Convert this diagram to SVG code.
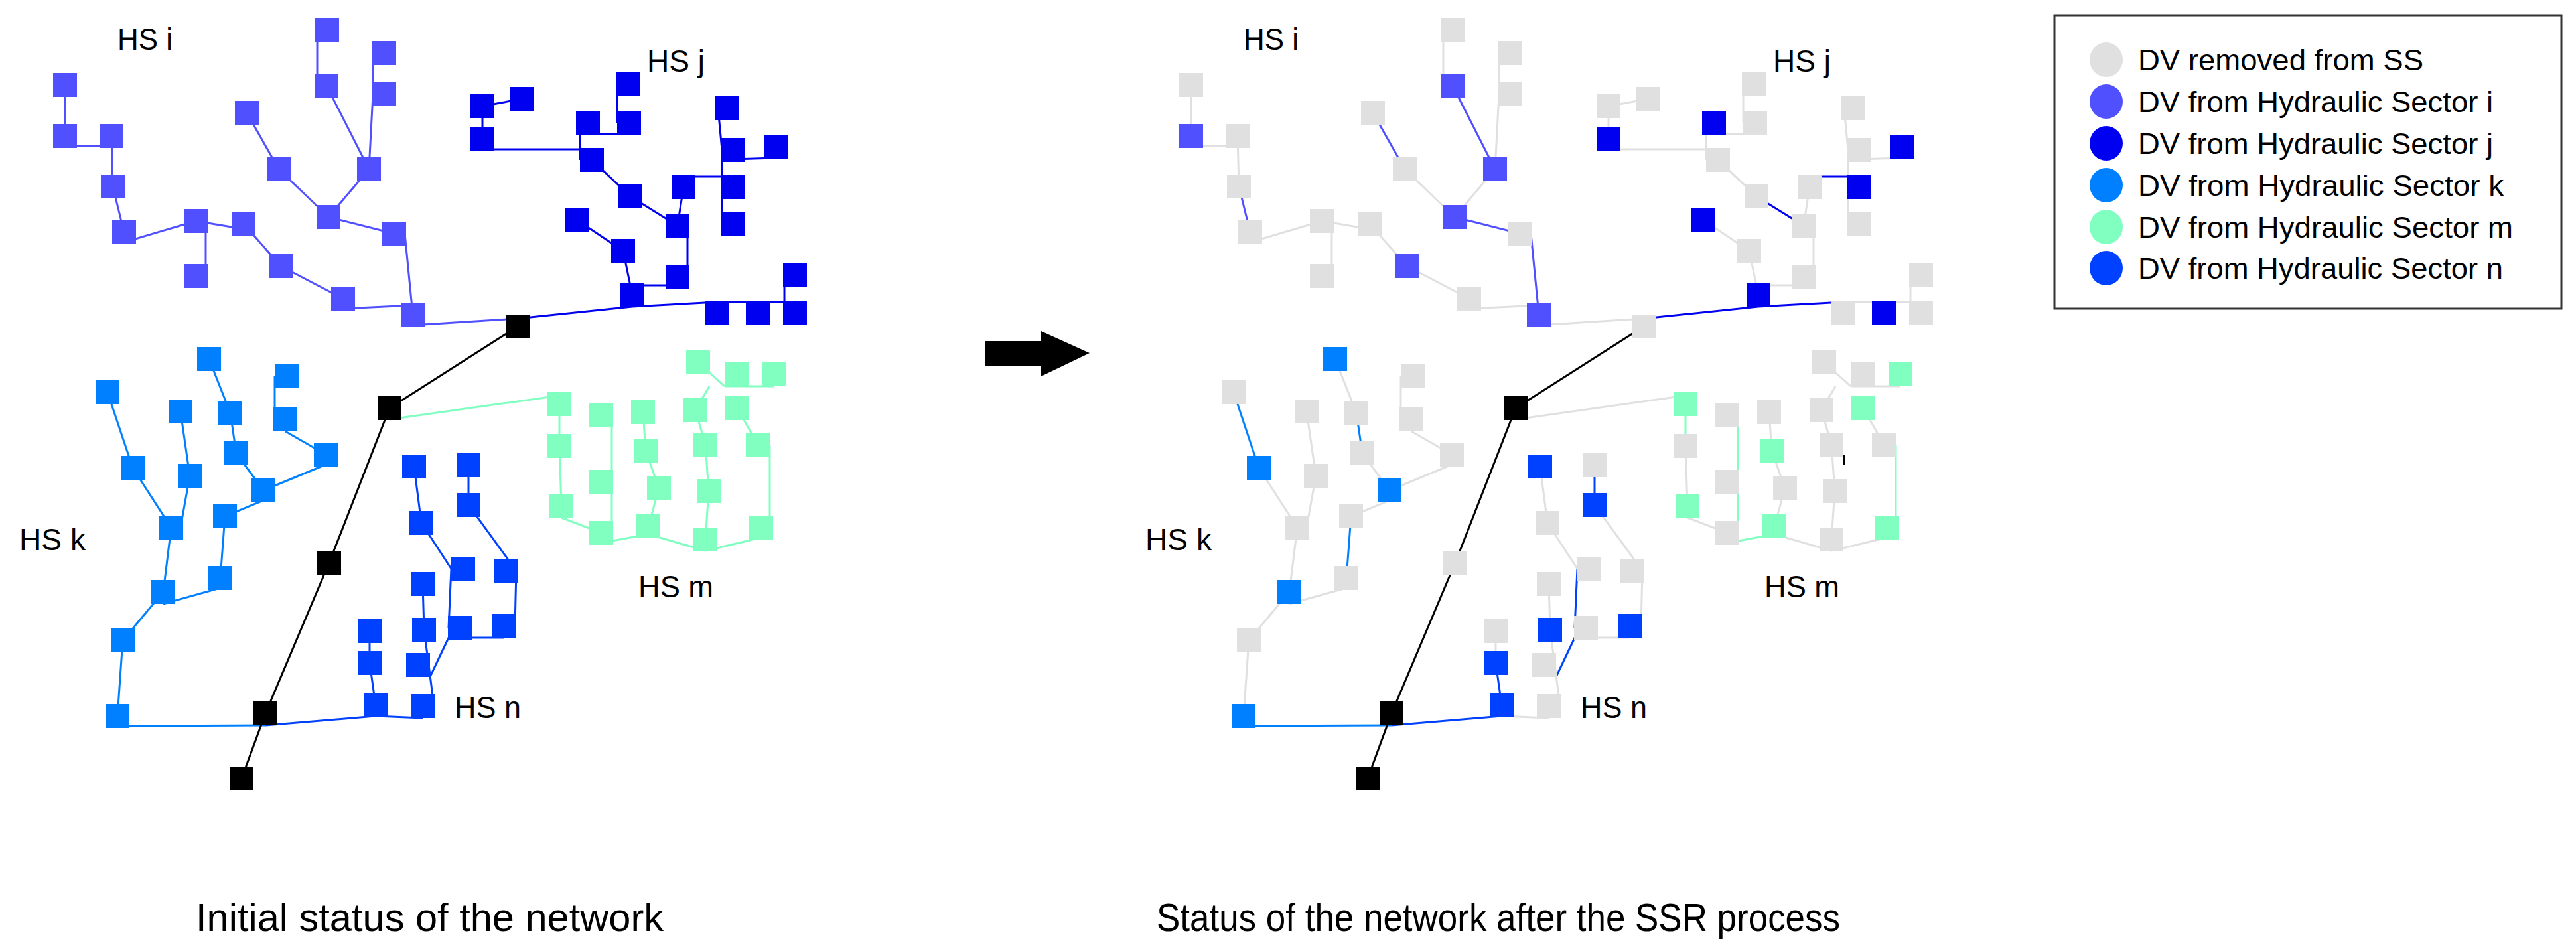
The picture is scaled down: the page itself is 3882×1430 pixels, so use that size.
<svg xmlns="http://www.w3.org/2000/svg" xmlns:xlink="http://www.w3.org/1999/xlink" width="3882" height="1430" viewBox="0 0 3882 1430">
<style>
line{stroke-width:3;fill:none}
.ei{stroke:#5050FF}.ej{stroke:#0000F0}.ek{stroke:#0080FF}.em{stroke:#80FFC0}.en{stroke:#0040FF}.eb{stroke:#000}.eg{stroke:#E0E0E0}
rect{width:36px;height:36px}
.ni{fill:#5050FF}.nj{fill:#0000F0}.nk{fill:#0080FF}.nm{fill:#80FFC0}.nn{fill:#0040FF}.nb{fill:#000}.ng{fill:#E0E0E0}
text{font-family:"Liberation Sans",Arial,sans-serif;fill:#000}
.hs{font-size:46px}
.lg{font-size:45px}
.cap{font-size:60px}
</style>
<rect x="0" y="0" width="3882" height="1430" style="width:3882px;height:1430px" fill="#fff"/>

<!-- LEFT NETWORK -->
<g id="left">
<g id="left-connectors">
<line class="ei" x1="98" y1="128" x2="98" y2="205"/><line class="ei" x1="98" y1="220" x2="168" y2="220"/><line class="ei" x1="168" y1="205" x2="170" y2="281"/><line class="ei" x1="170" y1="281" x2="187" y2="350"/><line class="ei" x1="187" y1="365" x2="295" y2="333"/><line class="ei" x1="295" y1="333" x2="367" y2="345"/><line class="ei" x1="310" y1="333" x2="310" y2="416"/><line class="ei" x1="367" y1="337" x2="423" y2="401"/><line class="ei" x1="423" y1="401" x2="517" y2="450"/><line class="ei" x1="517" y1="465" x2="622" y2="460"/><line class="ei" x1="622" y1="474" x2="610" y2="352"/><line class="ei" x1="594" y1="352" x2="495" y2="327"/><line class="ei" x1="495" y1="327" x2="420" y2="255"/><line class="ei" x1="495" y1="327" x2="556" y2="255"/><line class="ei" x1="420" y1="255" x2="372" y2="170"/><line class="ei" x1="556" y1="255" x2="492" y2="129"/><line class="ei" x1="556" y1="255" x2="562" y2="142"/><line class="ei" x1="478" y1="129" x2="478" y2="45"/><line class="ei" x1="562" y1="142" x2="562" y2="80"/><line class="ei" x1="622" y1="490" x2="780" y2="480"/>
<line class="ej" x1="727" y1="160" x2="787" y2="149"/><line class="ej" x1="727" y1="160" x2="727" y2="210"/><line class="ej" x1="727" y1="225" x2="892" y2="225"/><line class="ej" x1="874" y1="241" x2="874" y2="186"/><line class="ej" x1="886" y1="202" x2="948" y2="202"/><line class="ej" x1="930" y1="186" x2="930" y2="126"/><line class="ej" x1="892" y1="241" x2="950" y2="296"/><line class="ej" x1="950" y1="296" x2="1021" y2="340"/><line class="ej" x1="1021" y1="340" x2="1030" y2="282"/><line class="ej" x1="1030" y1="266" x2="1104" y2="266"/><line class="ej" x1="1088" y1="282" x2="1088" y2="226"/><line class="ej" x1="1104" y1="240" x2="1169" y2="238"/><line class="ej" x1="1088" y1="226" x2="1082" y2="163"/><line class="ej" x1="1088" y1="282" x2="1088" y2="337"/><line class="ej" x1="1036" y1="340" x2="1036" y2="418"/><line class="ej" x1="869" y1="331" x2="939" y2="378"/><line class="ej" x1="939" y1="378" x2="953" y2="445"/><line class="ej" x1="953" y1="430" x2="1021" y2="430"/><line class="ej" x1="953" y1="462" x2="780" y2="480"/><line class="ej" x1="953" y1="462" x2="1081" y2="455"/><line class="ej" x1="1081" y1="455" x2="1198" y2="455"/><line class="ej" x1="1182" y1="472" x2="1182" y2="415"/>
<line class="ek" x1="315" y1="541" x2="347" y2="622"/><line class="ek" x1="347" y1="622" x2="356" y2="683"/><line class="ek" x1="356" y1="683" x2="397" y2="739"/><line class="ek" x1="397" y1="739" x2="491" y2="700"/><line class="ek" x1="491" y1="685" x2="430" y2="650"/><line class="ek" x1="414" y1="632" x2="414" y2="567"/><line class="ek" x1="397" y1="754" x2="339" y2="778"/><line class="ek" x1="339" y1="778" x2="332" y2="871"/><line class="ek" x1="332" y1="886" x2="246" y2="910"/><line class="ek" x1="272" y1="620" x2="286" y2="717"/><line class="ek" x1="286" y1="717" x2="272" y2="795"/><line class="ek" x1="162" y1="591" x2="200" y2="705"/><line class="ek" x1="200" y1="705" x2="258" y2="795"/><line class="ek" x1="258" y1="795" x2="246" y2="892"/><line class="ek" x1="246" y1="892" x2="185" y2="965"/><line class="ek" x1="185" y1="965" x2="177" y2="1079"/><line class="ek" x1="177" y1="1094" x2="400" y2="1093"/>
<line class="em" x1="587" y1="632" x2="843" y2="596"/><line class="em" x1="843" y1="609" x2="843" y2="672"/><line class="em" x1="843" y1="672" x2="846" y2="762"/><line class="em" x1="846" y1="780" x2="906" y2="803"/><line class="em" x1="922" y1="625" x2="922" y2="803"/><line class="em" x1="906" y1="818" x2="977" y2="805"/><line class="em" x1="977" y1="793" x2="993" y2="736"/><line class="em" x1="993" y1="736" x2="973" y2="679"/><line class="em" x1="973" y1="679" x2="969" y2="621"/><line class="em" x1="977" y1="805" x2="1063" y2="830"/><line class="em" x1="1063" y1="813" x2="1068" y2="740"/><line class="em" x1="1068" y1="740" x2="1063" y2="670"/><line class="em" x1="1063" y1="670" x2="1048" y2="618"/><line class="em" x1="1048" y1="618" x2="1069" y2="582"/><line class="em" x1="1052" y1="546" x2="1092" y2="582"/><line class="em" x1="1092" y1="582" x2="1167" y2="582"/><line class="em" x1="1063" y1="830" x2="1147" y2="810"/><line class="em" x1="1160" y1="795" x2="1160" y2="670"/><line class="em" x1="1142" y1="670" x2="1111" y2="615"/>
<line class="en" x1="624" y1="703" x2="635" y2="788"/><line class="en" x1="635" y1="788" x2="680" y2="857"/><line class="en" x1="680" y1="857" x2="676" y2="946"/><line class="en" x1="693" y1="961" x2="760" y2="961"/><line class="en" x1="776" y1="943" x2="778" y2="860"/><line class="en" x1="778" y1="860" x2="706" y2="761"/><line class="en" x1="706" y1="761" x2="706" y2="701"/><line class="en" x1="637" y1="880" x2="639" y2="949"/><line class="en" x1="639" y1="949" x2="646" y2="1002"/><line class="en" x1="676" y1="961" x2="648" y2="1020"/><line class="en" x1="646" y1="1002" x2="654" y2="1064"/><line class="en" x1="557" y1="951" x2="557" y2="999"/><line class="en" x1="557" y1="999" x2="566" y2="1062"/><line class="en" x1="566" y1="1079" x2="637" y2="1082"/><line class="en" x1="566" y1="1079" x2="400" y2="1093"/>
<line class="eb" x1="780" y1="492" x2="587" y2="615"/><line class="eb" x1="587" y1="615" x2="496" y2="848"/><line class="eb" x1="496" y1="848" x2="400" y2="1075"/><line class="eb" x1="400" y1="1075" x2="364" y2="1173"/>
</g>
<g id="left-nodes">
<g id="L-i"><rect class="ni" x="475" y="27"/><rect class="ni" x="561" y="62"/><rect class="ni" x="474" y="111"/><rect class="ni" x="561" y="124"/><rect class="ni" x="80" y="110"/><rect class="ni" x="80" y="187"/><rect class="ni" x="150" y="187"/><rect class="ni" x="152" y="263"/><rect class="ni" x="169" y="332"/><rect class="ni" x="277" y="315"/><rect class="ni" x="349" y="319"/><rect class="ni" x="354" y="152"/><rect class="ni" x="402" y="237"/><rect class="ni" x="538" y="237"/><rect class="ni" x="477" y="309"/><rect class="ni" x="576" y="334"/><rect class="ni" x="277" y="398"/><rect class="ni" x="405" y="383"/><rect class="ni" x="499" y="432"/><rect class="ni" x="604" y="456"/></g>
<g id="L-j"><rect class="nj" x="709" y="142"/><rect class="nj" x="769" y="131"/><rect class="nj" x="709" y="192"/><rect class="nj" x="928" y="108"/><rect class="nj" x="868" y="168"/><rect class="nj" x="930" y="168"/><rect class="nj" x="874" y="223"/><rect class="nj" x="1078" y="145"/><rect class="nj" x="1086" y="208"/><rect class="nj" x="1151" y="204"/><rect class="nj" x="1012" y="264"/><rect class="nj" x="1086" y="264"/><rect class="nj" x="932" y="278"/><rect class="nj" x="851" y="313"/><rect class="nj" x="1003" y="322"/><rect class="nj" x="1086" y="319"/><rect class="nj" x="921" y="360"/><rect class="nj" x="1003" y="400"/><rect class="nj" x="935" y="427"/><rect class="nj" x="1063" y="454"/><rect class="nj" x="1124" y="454"/><rect class="nj" x="1180" y="454"/><rect class="nj" x="1180" y="397"/></g>
<g id="L-k"><rect class="nk" x="297" y="523"/><rect class="nk" x="414" y="549"/><rect class="nk" x="144" y="573"/><rect class="nk" x="254" y="602"/><rect class="nk" x="329" y="604"/><rect class="nk" x="412" y="614"/><rect class="nk" x="338" y="665"/><rect class="nk" x="473" y="667"/><rect class="nk" x="182" y="687"/><rect class="nk" x="268" y="699"/><rect class="nk" x="379" y="721"/><rect class="nk" x="321" y="760"/><rect class="nk" x="240" y="777"/><rect class="nk" x="314" y="853"/><rect class="nk" x="228" y="874"/><rect class="nk" x="167" y="947"/><rect class="nk" x="159" y="1061"/></g>
<g id="L-m"><rect class="nm" x="1034" y="528"/><rect class="nm" x="1092" y="546"/><rect class="nm" x="1149" y="546"/><rect class="nm" x="825" y="591"/><rect class="nm" x="888" y="607"/><rect class="nm" x="951" y="603"/><rect class="nm" x="1030" y="600"/><rect class="nm" x="1093" y="597"/><rect class="nm" x="825" y="654"/><rect class="nm" x="955" y="661"/><rect class="nm" x="1045" y="652"/><rect class="nm" x="1124" y="652"/><rect class="nm" x="888" y="708"/><rect class="nm" x="975" y="718"/><rect class="nm" x="1050" y="722"/><rect class="nm" x="828" y="744"/><rect class="nm" x="888" y="785"/><rect class="nm" x="959" y="775"/><rect class="nm" x="1045" y="795"/><rect class="nm" x="1129" y="777"/></g>
<g id="L-n"><rect class="nn" x="606" y="685"/><rect class="nn" x="688" y="683"/><rect class="nn" x="688" y="743"/><rect class="nn" x="617" y="770"/><rect class="nn" x="680" y="839"/><rect class="nn" x="744" y="842"/><rect class="nn" x="619" y="862"/><rect class="nn" x="539" y="933"/><rect class="nn" x="621" y="931"/><rect class="nn" x="675" y="928"/><rect class="nn" x="742" y="925"/><rect class="nn" x="539" y="981"/><rect class="nn" x="612" y="984"/><rect class="nn" x="548" y="1044"/><rect class="nn" x="619" y="1046"/></g>
<g id="L-b"><rect class="nb" x="762" y="474"/><rect class="nb" x="569" y="597"/><rect class="nb" x="478" y="830"/><rect class="nb" x="382" y="1057"/><rect class="nb" x="346" y="1155"/></g>
</g>
<g id="left-labels">
<text class="hs" x="177" y="75" textLength="83" lengthAdjust="spacingAndGlyphs">HS i</text>
<text class="hs" x="975" y="108" textLength="87" lengthAdjust="spacingAndGlyphs">HS j</text>
<text class="hs" x="29" y="829" textLength="100" lengthAdjust="spacingAndGlyphs">HS k</text>
<text class="hs" x="962" y="900" textLength="113" lengthAdjust="spacingAndGlyphs">HS m</text>
<text class="hs" x="685" y="1082" textLength="100" lengthAdjust="spacingAndGlyphs">HS n</text>
</g>
</g>

<!-- ARROW -->
<polygon id="arrow" points="1484,514 1569,514 1569,499 1642,532 1569,567 1569,551 1484,551" fill="#000"/>

<!-- RIGHT NETWORK -->
<g id="right" transform="translate(1697,0)">
<g id="right-connectors">
<line class="eg" x1="98" y1="128" x2="98" y2="205"/><line class="eg" x1="98" y1="220" x2="168" y2="220"/><line class="eg" x1="168" y1="205" x2="170" y2="281"/><line class="ei" x1="170" y1="281" x2="187" y2="350"/><line class="eg" x1="187" y1="365" x2="295" y2="333"/><line class="eg" x1="295" y1="333" x2="367" y2="345"/><line class="eg" x1="310" y1="333" x2="310" y2="416"/><line class="eg" x1="367" y1="337" x2="423" y2="401"/><line class="eg" x1="423" y1="401" x2="517" y2="450"/><line class="eg" x1="517" y1="465" x2="622" y2="460"/><line class="ei" x1="622" y1="474" x2="610" y2="352"/><line class="ei" x1="594" y1="352" x2="495" y2="327"/><line class="eg" x1="495" y1="327" x2="420" y2="255"/><line class="eg" x1="495" y1="327" x2="556" y2="255"/><line class="ei" x1="420" y1="255" x2="372" y2="170"/><line class="ei" x1="556" y1="255" x2="492" y2="129"/><line class="eg" x1="556" y1="255" x2="562" y2="142"/><line class="eg" x1="478" y1="129" x2="478" y2="45"/><line class="eg" x1="562" y1="142" x2="562" y2="80"/><line class="eg" x1="622" y1="490" x2="780" y2="480"/>
<line class="eg" x1="727" y1="160" x2="787" y2="149"/><line class="eg" x1="727" y1="160" x2="727" y2="210"/><line class="eg" x1="727" y1="225" x2="892" y2="225"/><line class="eg" x1="874" y1="241" x2="874" y2="186"/><line class="eg" x1="886" y1="202" x2="948" y2="202"/><line class="eg" x1="930" y1="186" x2="930" y2="126"/><line class="eg" x1="892" y1="241" x2="950" y2="296"/><line class="ej" x1="950" y1="296" x2="1021" y2="340"/><line class="eg" x1="1021" y1="340" x2="1030" y2="282"/><line class="ej" x1="1030" y1="266" x2="1104" y2="266"/><line class="eg" x1="1088" y1="282" x2="1088" y2="226"/><line class="eg" x1="1104" y1="240" x2="1169" y2="238"/><line class="eg" x1="1088" y1="226" x2="1082" y2="163"/><line class="eg" x1="1088" y1="282" x2="1088" y2="337"/><line class="eg" x1="1036" y1="340" x2="1036" y2="418"/><line class="eg" x1="869" y1="331" x2="939" y2="378"/><line class="eg" x1="939" y1="378" x2="953" y2="445"/><line class="eg" x1="953" y1="430" x2="1021" y2="430"/><line class="ej" x1="953" y1="462" x2="780" y2="480"/><line class="ej" x1="953" y1="462" x2="1081" y2="455"/><line class="eg" x1="1081" y1="455" x2="1198" y2="455"/><line class="eg" x1="1182" y1="472" x2="1182" y2="415"/>
<line class="eg" x1="315" y1="541" x2="347" y2="622"/><line class="ek" x1="347" y1="622" x2="356" y2="683"/><line class="eg" x1="356" y1="683" x2="397" y2="739"/><line class="eg" x1="397" y1="739" x2="491" y2="700"/><line class="eg" x1="491" y1="685" x2="430" y2="650"/><line class="eg" x1="414" y1="632" x2="414" y2="567"/><line class="eg" x1="397" y1="754" x2="339" y2="778"/><line class="ek" x1="339" y1="778" x2="332" y2="871"/><line class="eg" x1="332" y1="886" x2="246" y2="910"/><line class="eg" x1="272" y1="620" x2="286" y2="717"/><line class="eg" x1="286" y1="717" x2="272" y2="795"/><line class="ek" x1="162" y1="591" x2="200" y2="705"/><line class="eg" x1="200" y1="705" x2="258" y2="795"/><line class="eg" x1="258" y1="795" x2="246" y2="892"/><line class="eg" x1="246" y1="892" x2="185" y2="965"/><line class="eg" x1="185" y1="965" x2="177" y2="1079"/><line class="ek" x1="177" y1="1094" x2="400" y2="1093"/>
<line class="eg" x1="587" y1="632" x2="843" y2="596"/><line class="em" x1="843" y1="609" x2="843" y2="672"/><line class="eg" x1="843" y1="672" x2="846" y2="762"/><line class="eg" x1="846" y1="780" x2="906" y2="803"/><line class="em" x1="922" y1="625" x2="922" y2="803"/><line class="em" x1="906" y1="818" x2="977" y2="805"/><line class="eg" x1="977" y1="793" x2="993" y2="736"/><line class="eg" x1="993" y1="736" x2="973" y2="679"/><line class="eg" x1="973" y1="679" x2="969" y2="621"/><line class="eg" x1="977" y1="805" x2="1063" y2="830"/><line class="eg" x1="1063" y1="813" x2="1068" y2="740"/><line class="eg" x1="1068" y1="740" x2="1063" y2="670"/><line class="eg" x1="1063" y1="670" x2="1048" y2="618"/><line class="eg" x1="1048" y1="618" x2="1069" y2="582"/><line class="eg" x1="1052" y1="546" x2="1092" y2="582"/><line class="eg" x1="1092" y1="582" x2="1167" y2="582"/><line class="eg" x1="1063" y1="830" x2="1147" y2="810"/><line class="em" x1="1160" y1="795" x2="1160" y2="670"/><line class="eg" x1="1142" y1="670" x2="1111" y2="615"/><line class="eb" x1="1082" y1="686" x2="1082" y2="700"/>
<line class="eg" x1="624" y1="703" x2="635" y2="788"/><line class="eg" x1="635" y1="788" x2="680" y2="857"/><line class="en" x1="680" y1="857" x2="676" y2="946"/><line class="eg" x1="693" y1="961" x2="760" y2="961"/><line class="eg" x1="776" y1="943" x2="778" y2="860"/><line class="eg" x1="778" y1="860" x2="706" y2="761"/><line class="en" x1="706" y1="761" x2="706" y2="701"/><line class="eg" x1="637" y1="880" x2="639" y2="949"/><line class="eg" x1="639" y1="949" x2="646" y2="1002"/><line class="en" x1="676" y1="961" x2="648" y2="1020"/><line class="eg" x1="646" y1="1002" x2="654" y2="1064"/><line class="eg" x1="557" y1="951" x2="557" y2="999"/><line class="en" x1="557" y1="999" x2="566" y2="1062"/><line class="eg" x1="566" y1="1079" x2="637" y2="1082"/><line class="en" x1="566" y1="1079" x2="400" y2="1093"/>
<line class="eb" x1="780" y1="492" x2="587" y2="615"/><line class="eb" x1="587" y1="615" x2="496" y2="848"/><line class="eb" x1="496" y1="848" x2="400" y2="1075"/><line class="eb" x1="400" y1="1075" x2="364" y2="1173"/>
</g>
<g id="right-nodes">
<g id="R-i"><rect class="ng" x="475" y="27"/><rect class="ng" x="561" y="62"/><rect class="ni" x="474" y="111"/><rect class="ng" x="561" y="124"/><rect class="ng" x="80" y="110"/><rect class="ni" x="80" y="187"/><rect class="ng" x="150" y="187"/><rect class="ng" x="152" y="263"/><rect class="ng" x="169" y="332"/><rect class="ng" x="277" y="315"/><rect class="ng" x="349" y="319"/><rect class="ng" x="354" y="152"/><rect class="ng" x="402" y="237"/><rect class="ni" x="538" y="237"/><rect class="ni" x="477" y="309"/><rect class="ng" x="576" y="334"/><rect class="ng" x="277" y="398"/><rect class="ni" x="405" y="383"/><rect class="ng" x="499" y="432"/><rect class="ni" x="604" y="456"/></g>
<g id="R-j"><rect class="ng" x="709" y="142"/><rect class="ng" x="769" y="131"/><rect class="nj" x="709" y="192"/><rect class="ng" x="928" y="108"/><rect class="nj" x="868" y="168"/><rect class="ng" x="930" y="168"/><rect class="ng" x="874" y="223"/><rect class="ng" x="1078" y="145"/><rect class="ng" x="1086" y="208"/><rect class="nj" x="1151" y="204"/><rect class="ng" x="1012" y="264"/><rect class="nj" x="1086" y="264"/><rect class="ng" x="932" y="278"/><rect class="nj" x="851" y="313"/><rect class="ng" x="1003" y="322"/><rect class="ng" x="1086" y="319"/><rect class="ng" x="921" y="360"/><rect class="ng" x="1003" y="400"/><rect class="nj" x="935" y="427"/><rect class="ng" x="1063" y="454"/><rect class="nj" x="1124" y="454"/><rect class="ng" x="1180" y="454"/><rect class="ng" x="1180" y="397"/></g>
<g id="R-k"><rect class="nk" x="297" y="523"/><rect class="ng" x="414" y="549"/><rect class="ng" x="144" y="573"/><rect class="ng" x="254" y="602"/><rect class="ng" x="329" y="604"/><rect class="ng" x="412" y="614"/><rect class="ng" x="338" y="665"/><rect class="ng" x="473" y="667"/><rect class="nk" x="182" y="687"/><rect class="ng" x="268" y="699"/><rect class="nk" x="379" y="721"/><rect class="ng" x="321" y="760"/><rect class="ng" x="240" y="777"/><rect class="ng" x="314" y="853"/><rect class="nk" x="228" y="874"/><rect class="ng" x="167" y="947"/><rect class="nk" x="159" y="1061"/></g>
<g id="R-m"><rect class="ng" x="1034" y="528"/><rect class="ng" x="1092" y="546"/><rect class="nm" x="1149" y="546"/><rect class="nm" x="825" y="591"/><rect class="ng" x="888" y="607"/><rect class="ng" x="951" y="603"/><rect class="ng" x="1030" y="600"/><rect class="nm" x="1093" y="597"/><rect class="ng" x="825" y="654"/><rect class="nm" x="955" y="661"/><rect class="ng" x="1045" y="652"/><rect class="ng" x="1124" y="652"/><rect class="ng" x="888" y="708"/><rect class="ng" x="975" y="718"/><rect class="ng" x="1050" y="722"/><rect class="nm" x="828" y="744"/><rect class="ng" x="888" y="785"/><rect class="nm" x="959" y="775"/><rect class="ng" x="1045" y="795"/><rect class="nm" x="1129" y="777"/></g>
<g id="R-n"><rect class="nn" x="606" y="685"/><rect class="ng" x="688" y="683"/><rect class="nn" x="688" y="743"/><rect class="ng" x="617" y="770"/><rect class="ng" x="680" y="839"/><rect class="ng" x="744" y="842"/><rect class="ng" x="619" y="862"/><rect class="ng" x="539" y="933"/><rect class="nn" x="621" y="931"/><rect class="ng" x="675" y="928"/><rect class="nn" x="742" y="925"/><rect class="nn" x="539" y="981"/><rect class="ng" x="612" y="984"/><rect class="nn" x="548" y="1044"/><rect class="ng" x="619" y="1046"/></g>
<g id="R-b"><rect class="ng" x="762" y="474"/><rect class="nb" x="569" y="597"/><rect class="ng" x="478" y="830"/><rect class="nb" x="382" y="1057"/><rect class="nb" x="346" y="1155"/></g>
</g>
<g id="right-labels">
<text class="hs" x="177" y="75" textLength="83" lengthAdjust="spacingAndGlyphs">HS i</text>
<text class="hs" x="975" y="108" textLength="87" lengthAdjust="spacingAndGlyphs">HS j</text>
<text class="hs" x="29" y="829" textLength="100" lengthAdjust="spacingAndGlyphs">HS k</text>
<text class="hs" x="962" y="900" textLength="113" lengthAdjust="spacingAndGlyphs">HS m</text>
<text class="hs" x="685" y="1082" textLength="100" lengthAdjust="spacingAndGlyphs">HS n</text>
</g>
</g>

<!-- LEGEND -->
<g id="legend">
<rect x="3096" y="23" style="width:764px;height:442px" fill="#fff" stroke="#333" stroke-width="3"/>
<ellipse cx="3174" cy="90" rx="25" ry="26" fill="#E0E0E0"/>
<ellipse cx="3174" cy="153" rx="25" ry="26" fill="#5050FF"/>
<ellipse cx="3174" cy="216" rx="25" ry="26" fill="#0000F0"/>
<ellipse cx="3174" cy="279" rx="25" ry="26" fill="#0080FF"/>
<ellipse cx="3174" cy="342" rx="25" ry="26" fill="#80FFC0"/>
<ellipse cx="3174" cy="404" rx="25" ry="26" fill="#0040FF"/>
<text class="lg" x="3222" y="106" textLength="430" lengthAdjust="spacingAndGlyphs">DV removed from SS</text>
<text class="lg" x="3222" y="169" textLength="535" lengthAdjust="spacingAndGlyphs">DV from Hydraulic Sector i</text>
<text class="lg" x="3222" y="232" textLength="535" lengthAdjust="spacingAndGlyphs">DV from Hydraulic Sector j</text>
<text class="lg" x="3222" y="295" textLength="551" lengthAdjust="spacingAndGlyphs">DV from Hydraulic Sector k</text>
<text class="lg" x="3222" y="358" textLength="565" lengthAdjust="spacingAndGlyphs">DV from Hydraulic Sector m</text>
<text class="lg" x="3222" y="420" textLength="550" lengthAdjust="spacingAndGlyphs">DV from Hydraulic Sector n</text>
</g>

<text class="cap" x="295" y="1403" textLength="705" lengthAdjust="spacingAndGlyphs">Initial status of the network</text>
<text class="cap" x="1743" y="1403" textLength="1030" lengthAdjust="spacingAndGlyphs">Status of the network after the SSR process</text>
</svg>
